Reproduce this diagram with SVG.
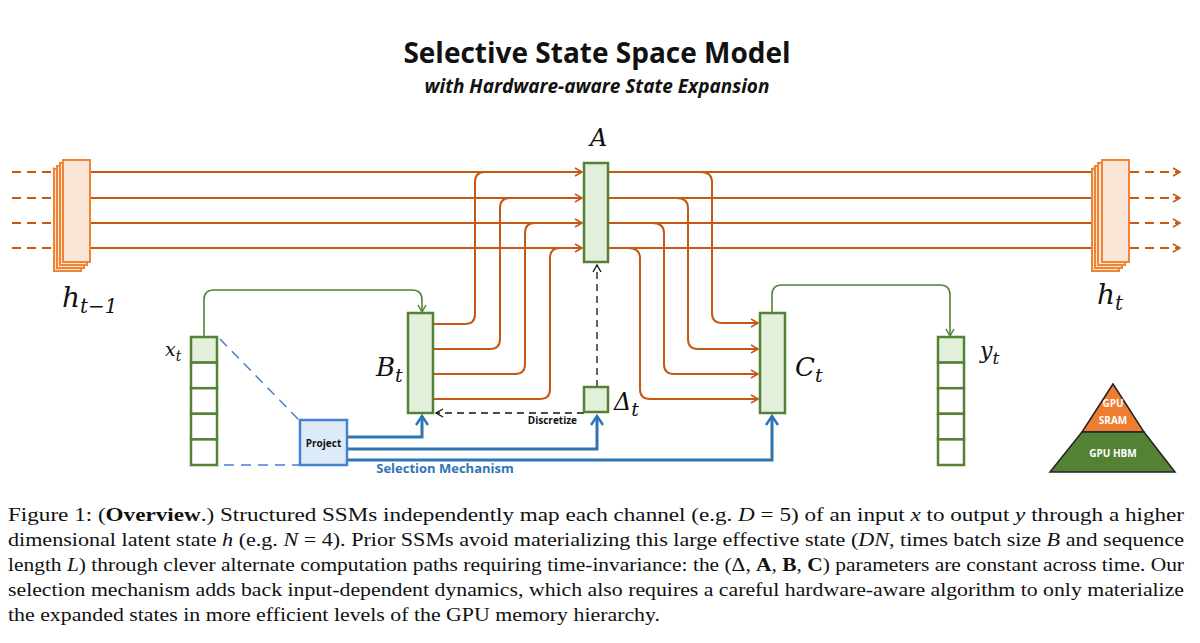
<svg xmlns="http://www.w3.org/2000/svg" width="1200" height="643" viewBox="0 0 1200 643">
<defs>
<style>
.o{stroke:#c65911;stroke-width:2;fill:none}
.od{stroke:#c65911;stroke-width:2;fill:none;stroke-dasharray:9 6}
.g{stroke:#548235;stroke-width:1.6;fill:none}
.bl{stroke:#2e75b6;stroke-width:3;fill:none}
.gb{fill:#e2efda;stroke:#548235;stroke-width:2.5}
.wb{fill:#fff;stroke:#548235;stroke-width:2.5}
.hb{fill:#fbe5d6;stroke:#f08536;stroke-width:2}
.m{font-family:"DejaVu Serif","Liberation Serif",serif;font-style:italic;fill:#111}
.s{font-family:"Open Sans","Noto Sans",sans-serif;font-weight:bold}
.cap{font-family:"Liberation Serif",serif;font-size:19px;fill:#111}
</style>
<marker id="ao" markerWidth="10" markerHeight="10" refX="8" refY="5" orient="auto" markerUnits="userSpaceOnUse"><path d="M1 1 L8 5 L1 9" fill="none" stroke="#c65911" stroke-width="1.6"/></marker>
<marker id="ag" markerWidth="10" markerHeight="10" refX="8" refY="5" orient="auto" markerUnits="userSpaceOnUse"><path d="M1 1 L8 5 L1 9" fill="none" stroke="#548235" stroke-width="1.5"/></marker>
<marker id="ab" markerWidth="14" markerHeight="14" refX="11" refY="7" orient="auto" markerUnits="userSpaceOnUse"><path d="M2 1 L11 7 L2 13" fill="none" stroke="#2e75b6" stroke-width="2.5"/></marker>
<marker id="ak" markerWidth="10" markerHeight="10" refX="8" refY="5" orient="auto" markerUnits="userSpaceOnUse"><path d="M1 1 L8 5 L1 9" fill="none" stroke="#111" stroke-width="1.3"/></marker>
</defs>
<rect width="1200" height="643" fill="#fff"/>
<text x="597" y="63" text-anchor="middle" class="s" font-size="28" fill="#111">Selective State Space Model</text>
<text x="597" y="93" text-anchor="middle" class="s" font-size="19" font-style="italic" fill="#111">with Hardware-aware State Expansion</text>

<g id="connectors">
<g class="od">
<path d="M12 172H60" marker-end="url(#ao)"/><path d="M12 198H60" marker-end="url(#ao)"/><path d="M12 223H60" marker-end="url(#ao)"/><path d="M12 248H60" marker-end="url(#ao)"/>
<path d="M1130 172H1180" marker-end="url(#ao)"/><path d="M1130 198H1180" marker-end="url(#ao)"/><path d="M1130 223H1180" marker-end="url(#ao)"/><path d="M1130 248H1180" marker-end="url(#ao)"/>
</g>
<g class="o">
<path d="M90 172H582" marker-end="url(#ao)"/><path d="M90 198H582" marker-end="url(#ao)"/><path d="M90 223H582" marker-end="url(#ao)"/><path d="M90 248H582" marker-end="url(#ao)"/>
<path d="M608 172H1100" marker-end="url(#ao)"/><path d="M608 198H1100" marker-end="url(#ao)"/><path d="M608 223H1100" marker-end="url(#ao)"/><path d="M608 248H1100" marker-end="url(#ao)"/>
<path d="M433 324H465Q475 324 475 314V182Q475 172 485 172H500"/>
<path d="M433 349H490Q500 349 500 339V208Q500 198 510 198H525"/>
<path d="M433 374H515Q525 374 525 364V233Q525 223 535 223H550"/>
<path d="M433 399H540Q550 399 550 389V258Q550 248 560 248H575"/>
<path d="M700 172Q712 172 712 182V313Q712 323 722 323H758" marker-end="url(#ao)"/>
<path d="M676 198Q688 198 688 208V339Q688 349 698 349H758" marker-end="url(#ao)"/>
<path d="M652 223Q664 223 664 233V364Q664 374 674 374H758" marker-end="url(#ao)"/>
<path d="M628 248Q640 248 640 258V389Q640 399 650 399H758" marker-end="url(#ao)"/>
</g>
<path class="g" d="M204 337V300Q204 290 214 290H412Q422 290 422 300V312" marker-end="url(#ag)"/>
<path class="g" d="M772 313V295Q772 285 782 285H940Q950 285 950 295V336" marker-end="url(#ag)"/>
<path d="M597 387V265" stroke="#111" stroke-width="1.3" stroke-dasharray="7 5" fill="none" marker-end="url(#ak)"/>
<path d="M584 413H436" stroke="#111" stroke-width="1.3" stroke-dasharray="7 5" fill="none" marker-end="url(#ak)"/>
<g class="bl">
<path d="M347 437H422V416" marker-end="url(#ab)"/>
<path d="M347 449H597V416" marker-end="url(#ab)"/>
<path d="M347 460H772V416" marker-end="url(#ab)"/>
</g>
<path d="M220 339L299 420M224 465H299" stroke="#4a7fd0" stroke-width="1.5" stroke-dasharray="10 7" fill="none"/>
</g>

<g id="h_prev">
<rect x="54" y="169" width="27" height="102" class="hb"/><rect x="57" y="166" width="27" height="102" class="hb"/><rect x="60" y="163" width="27" height="102" class="hb"/><rect x="63" y="160" width="27" height="102" class="hb"/>
<text x="62" y="307" class="m" font-size="28">h<tspan font-size="20" dy="6">t−1</tspan></text>
</g>
<g id="h_t">
<rect x="1092" y="169" width="27" height="102" class="hb"/><rect x="1095" y="166" width="27" height="102" class="hb"/><rect x="1098" y="163" width="27" height="102" class="hb"/><rect x="1102" y="160" width="27" height="102" class="hb"/>
<text x="1097" y="304" class="m" font-size="28">h<tspan font-size="20" dy="6">t</tspan></text>
</g>
<g id="A"><rect x="584" y="163" width="24" height="99" class="gb"/><text x="590" y="146" class="m" font-size="24">A</text></g>
<g id="Bt"><rect x="408" y="313" width="25" height="100" class="gb"/><text x="376" y="376" class="m" font-size="26">B<tspan font-size="19" dy="6">t</tspan></text></g>
<g id="Ct"><rect x="760" y="313" width="25" height="100" class="gb"/><text x="795" y="376" class="m" font-size="26">C<tspan font-size="19" dy="6">t</tspan></text></g>
<g id="Delta"><rect x="584" y="387" width="24" height="25" class="gb"/><text x="614" y="410" class="m" font-size="24" font-style="normal">Δ<tspan font-style="italic" font-size="19" dy="6">t</tspan></text>
<text x="577" y="424" text-anchor="end" class="s" font-size="10" fill="#111">Discretize</text></g>
<g id="xt">
<rect x="191" y="337" width="26" height="25.6" class="gb"/><rect x="191" y="362.6" width="26" height="25.6" class="wb"/><rect x="191" y="388.2" width="26" height="25.6" class="wb"/><rect x="191" y="413.8" width="26" height="25.6" class="wb"/><rect x="191" y="439.4" width="26" height="25.6" class="wb"/>
<text x="165" y="356" class="m" font-size="19">x<tspan font-size="14" dy="5">t</tspan></text>
</g>
<g id="yt">
<rect x="938" y="337" width="26" height="25.6" class="gb"/><rect x="938" y="362.6" width="26" height="25.6" class="wb"/><rect x="938" y="388.2" width="26" height="25.6" class="wb"/><rect x="938" y="413.8" width="26" height="25.6" class="wb"/><rect x="938" y="439.4" width="26" height="25.6" class="wb"/>
<text x="980" y="358" class="m" font-size="22">y<tspan font-size="17" dy="6">t</tspan></text>
</g>
<g id="project"><rect x="300" y="420" width="47" height="45" fill="#ddebf7" stroke="#4a7fd0" stroke-width="2.5"/><text x="323.5" y="447" text-anchor="middle" class="s" font-size="10" fill="#111">Project</text></g>
<text x="445" y="473" text-anchor="middle" class="s" font-size="13" fill="#2e75b6">Selection Mechanism</text>
<g id="pyramid">
<polygon points="1113,384 1144,432 1082,432" fill="#ed7d31" stroke="#222" stroke-width="1.5"/>
<polygon points="1082,432 1144,432 1175,472 1050,472" fill="#548235" stroke="#222" stroke-width="1.5"/>
<text x="1113" y="407" text-anchor="middle" class="s" font-size="10" fill="#fff">GPU</text>
<text x="1113" y="424" text-anchor="middle" class="s" font-size="10" fill="#fff">SRAM</text>
<text x="1113" y="457" text-anchor="middle" class="s" font-size="10" fill="#fff">GPU HBM</text>
</g>
<g class="cap">
<text x="8" y="521" textLength="1176" lengthAdjust="spacingAndGlyphs">Figure 1: (<tspan font-weight="bold">Overview</tspan>.) Structured SSMs independently map each channel (e.g. <tspan font-style="italic">D</tspan> = 5) of an input <tspan font-style="italic">x</tspan> to output <tspan font-style="italic">y</tspan> through a higher</text>
<text x="8" y="546" textLength="1176" lengthAdjust="spacingAndGlyphs">dimensional latent state <tspan font-style="italic">h</tspan> (e.g. <tspan font-style="italic">N</tspan> = 4). Prior SSMs avoid materializing this large effective state (<tspan font-style="italic">DN</tspan>, times batch size <tspan font-style="italic">B</tspan> and sequence</text>
<text x="8" y="571" textLength="1176" lengthAdjust="spacingAndGlyphs">length <tspan font-style="italic">L</tspan>) through clever alternate computation paths requiring time-invariance: the (Δ, <tspan font-weight="bold">A</tspan>, <tspan font-weight="bold">B</tspan>, <tspan font-weight="bold">C</tspan>) parameters are constant across time. Our</text>
<text x="8" y="596" textLength="1176" lengthAdjust="spacingAndGlyphs">selection mechanism adds back input-dependent dynamics, which also requires a careful hardware-aware algorithm to only materialize</text>
<text x="8" y="621" textLength="652" lengthAdjust="spacingAndGlyphs">the expanded states in more efficient levels of the GPU memory hierarchy.</text>
</g>
</svg>
